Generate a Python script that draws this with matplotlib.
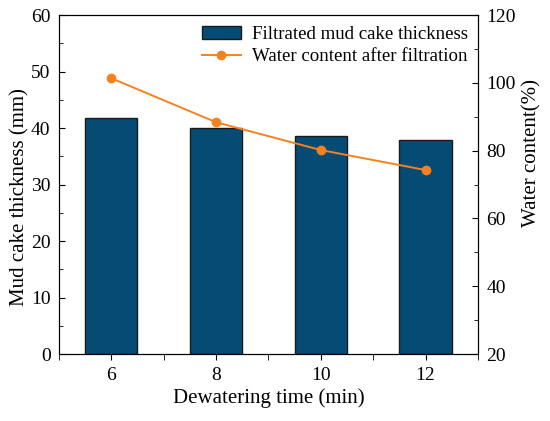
import matplotlib
matplotlib.use("Agg")
import matplotlib.pyplot as plt
from matplotlib.ticker import MultipleLocator

plt.rcParams['font.family'] = ['Liberation Serif', 'DejaVu Serif']
plt.rcParams['font.size'] = 15

times = [6, 8, 10, 12]
thickness = [41.8, 40.0, 38.6, 37.9]
water = [101.4, 88.4, 80.2, 74.3]

fig, ax = plt.subplots(figsize=(5.5, 4.21), dpi=100)
fig.subplots_adjust(left=0.107, right=0.869, top=0.964, bottom=0.159)

bars = ax.bar(times, thickness, width=1.0, color='#054b73', edgecolor='#1a1a1a',
              linewidth=1.0, label='Filtrated mud cake thickness')
ax.set_xlim(5, 13)
ax.set_ylim(0, 60)
ax.set_xticks(times)
ax.xaxis.set_minor_locator(MultipleLocator(1))
ax.yaxis.set_minor_locator(MultipleLocator(5))
ax.set_xlabel('Dewatering time (min)', fontsize=15, labelpad=3)
ax.set_ylabel('Mud cake thickness (mm)', fontsize=15, labelpad=1)
ax.yaxis.label.set_y(0.463)
ax.tick_params(axis='x', which='both', direction='out', length=4.5, labelsize=14, pad=5)
ax.tick_params(axis='y', which='both', direction='in', labelsize=14, pad=6)
ax.tick_params(axis='y', which='major', length=4)
ax.tick_params(axis='y', which='minor', length=3)

ax2 = ax.twinx()
line, = ax2.plot(times, water, color='#f5821f', marker='o', markersize=6,
                 linewidth=1.4, label='Water content after filtration')
ax2.set_ylim(20, 120)
ax2.yaxis.set_minor_locator(MultipleLocator(10))
ax2.set_ylabel('Water content(%)', fontsize=15, labelpad=5)
ax2.yaxis.label.set_y(0.593)
ax2.tick_params(which='both', direction='in', labelsize=14, pad=6)
ax2.tick_params(which='major', length=4)
ax2.tick_params(which='minor', length=3)

ax.legend([bars, line], [bars.get_label(), line.get_label()], loc='upper right',
          frameon=False, fontsize=13.6, handlelength=2.1, borderaxespad=0.2,
          labelspacing=0.28, handletextpad=0.55, borderpad=0.35)

fig.savefig('out.png', dpi=100)
